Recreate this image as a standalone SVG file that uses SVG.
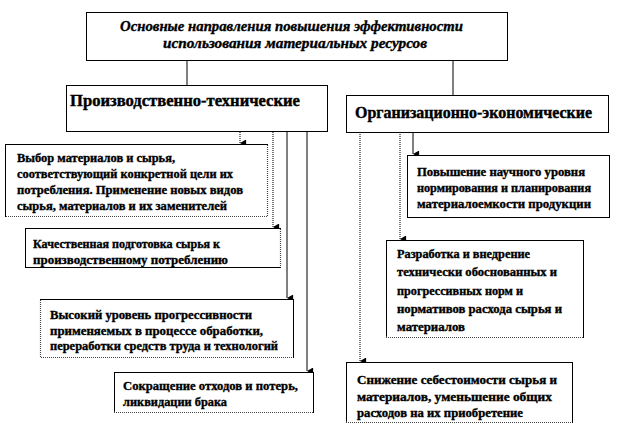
<svg xmlns="http://www.w3.org/2000/svg" width="620" height="432" viewBox="0 0 620 432">
<defs>
<style>
.bx{fill:#fff;stroke:#000;stroke-width:1}
.dt{fill:none;stroke:#444;stroke-width:1.2;stroke-dasharray:1,1}
.wt{fill:none;stroke:#fff;stroke-width:1.5}
.ln{fill:none;stroke:#000;stroke-width:1}
.ld{fill:none;stroke:#333;stroke-width:1.3;stroke-dasharray:1,1}
.t{font-family:"Liberation Serif","Times New Roman",serif;font-weight:bold;font-size:12.5px;fill:#000;stroke:#000;stroke-width:0.35}
.ti{font-family:"Liberation Serif","Times New Roman",serif;font-weight:bold;font-style:italic;font-size:14.5px;fill:#000;stroke:#000;stroke-width:0.35}
.th{font-family:"Liberation Serif","Times New Roman",serif;font-weight:bold;font-size:16px;fill:#000;stroke:#000;stroke-width:0.4}
</style>
<marker id="ah" viewBox="0 0 8 8" refX="4" refY="8" markerWidth="7" markerHeight="7" markerUnits="userSpaceOnUse" orient="auto-start-reverse">
<path d="M0,1 L8,1 L4,8 Z" fill="#000"/>
</marker>
</defs>
<rect width="620" height="432" fill="#fff"/>

<g id="connectors">
<line class="ln" x1="187" y1="60" x2="187" y2="85"/>
<line class="ln" x1="453" y1="60" x2="453" y2="95"/>
<line class="ld" x1="240" y1="132" x2="240" y2="143" marker-end="url(#ah)"/>
<line class="ld" x1="273" y1="132" x2="273" y2="227" marker-end="url(#ah)"/>
<line class="ln" x1="287" y1="132" x2="287" y2="298" marker-end="url(#ah)"/>
<line class="ln" x1="307" y1="132" x2="307" y2="371" marker-end="url(#ah)"/>
<line class="ld" x1="360" y1="132" x2="360" y2="361" marker-end="url(#ah)"/>
<line class="ld" x1="400" y1="132" x2="400" y2="239" marker-end="url(#ah)"/>
<line class="ln" x1="413" y1="132" x2="413" y2="154" marker-end="url(#ah)"/>
</g>

<g id="title">
<rect class="bx" x="86.5" y="12.5" width="421" height="48"/>
<text class="ti" x="120" y="31" textLength="343" lengthAdjust="spacingAndGlyphs">Основные направления повышения эффективности</text>
<text class="ti" x="163" y="48" textLength="264" lengthAdjust="spacingAndGlyphs">использования материальных ресурсов</text>
</g>

<g id="cat-left">
<rect class="bx" x="66.5" y="85.5" width="261" height="46"/>
<text class="th" x="70" y="106" textLength="230" lengthAdjust="spacingAndGlyphs">Производственно-технические</text>
</g>

<g id="cat-right">
<rect class="bx" x="346.5" y="95.5" width="262" height="37"/>
<text class="th" x="355" y="118" textLength="237" lengthAdjust="spacingAndGlyphs">Организационно-экономические</text>
</g>

<g id="l1">
<rect class="bx" x="5.5" y="144.5" width="262" height="72"/>
<path class="wt" d="M267.5,145 V216.5 H6"/>
<path class="dt" d="M267.5,145 V216.5 H6"/>
<text class="t" x="17" y="162" textLength="158" lengthAdjust="spacingAndGlyphs">Выбор материалов и сырья,</text>
<text class="t" x="17" y="178" textLength="216" lengthAdjust="spacingAndGlyphs">соответствующий  конкретной цели их</text>
<text class="t" x="17" y="194" textLength="226" lengthAdjust="spacingAndGlyphs">потребления. Применение новых видов</text>
<text class="t" x="17" y="210" textLength="210" lengthAdjust="spacingAndGlyphs">сырья, материалов и их  заменителей</text>
</g>

<g id="l2">
<rect class="bx" x="25.5" y="228.5" width="255" height="39"/>
<path class="wt" d="M280.5,229 V267"/>
<path class="dt" d="M280.5,229 V267"/>
<text class="t" x="33" y="248" textLength="187" lengthAdjust="spacingAndGlyphs">Качественная подготовка  сырья к</text>
<text class="t" x="33" y="264" textLength="195" lengthAdjust="spacingAndGlyphs">производственному потреблению</text>
</g>

<g id="l3">
<rect class="bx" x="40.5" y="299.5" width="253" height="58"/>
<path class="wt" d="M40.5,300 V357.5 H293"/>
<path class="dt" d="M40.5,300 V357.5 H293"/>
<text class="t" x="50" y="319" textLength="202" lengthAdjust="spacingAndGlyphs">Высокий  уровень прогрессивности</text>
<text class="t" x="50" y="335" textLength="213" lengthAdjust="spacingAndGlyphs">применяемых в процессе обработки,</text>
<text class="t" x="50" y="350" textLength="228" lengthAdjust="spacingAndGlyphs">переработки средств  труда и технологий</text>
</g>

<g id="l4">
<rect class="bx" x="114.5" y="372.5" width="199" height="40"/>
<path class="wt" d="M114,412.5 H313"/>
<path class="dt" d="M114,412.5 H313"/>
<text class="t" x="123" y="390" textLength="175" lengthAdjust="spacingAndGlyphs">Сокращение  отходов  и потерь,</text>
<text class="t" x="123" y="406" textLength="104" lengthAdjust="spacingAndGlyphs">ликвидации  брака</text>
</g>

<g id="r1">
<rect class="bx" x="407.5" y="155.5" width="202" height="62"/>
<text class="t" x="417" y="176" textLength="168" lengthAdjust="spacingAndGlyphs">Повышение научного уровня</text>
<text class="t" x="417" y="192" textLength="174" lengthAdjust="spacingAndGlyphs">нормирования и планирования</text>
<text class="t" x="417" y="208" textLength="174" lengthAdjust="spacingAndGlyphs">материалоемкости продукции</text>
</g>

<g id="r2">
<rect class="bx" x="386.5" y="240.5" width="197" height="97"/>
<path class="wt" d="M386,337.5 H583"/>
<path class="dt" d="M386,337.5 H583"/>
<text class="t" x="397" y="258" textLength="133" lengthAdjust="spacingAndGlyphs">Разработка и внедрение</text>
<text class="t" x="397" y="276" textLength="160" lengthAdjust="spacingAndGlyphs">технически  обоснованных и</text>
<text class="t" x="397" y="295" textLength="126" lengthAdjust="spacingAndGlyphs">прогрессивных  норм и</text>
<text class="t" x="397" y="313" textLength="165" lengthAdjust="spacingAndGlyphs">нормативов расхода  сырья и</text>
<text class="t" x="397" y="331" textLength="68" lengthAdjust="spacingAndGlyphs">материалов</text>
</g>

<g id="r3">
<rect class="bx" x="346.5" y="362.5" width="226" height="60"/>
<path class="wt" d="M346,422.5 H572"/>
<path class="dt" d="M346,422.5 H572"/>
<text class="t" x="357" y="384" textLength="200" lengthAdjust="spacingAndGlyphs">Снижение  себестоимости сырья и</text>
<text class="t" x="357" y="401" textLength="195" lengthAdjust="spacingAndGlyphs">материалов, уменьшение общих</text>
<text class="t" x="357" y="417" textLength="166" lengthAdjust="spacingAndGlyphs">расходов на их приобретение</text>
</g>
</svg>
